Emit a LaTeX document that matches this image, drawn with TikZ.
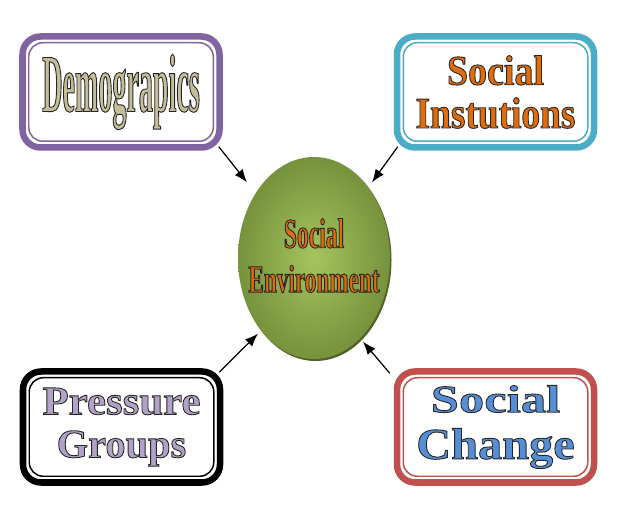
\documentclass[tikz,border=0pt]{standalone}
\usepackage{fontspec}
\setmainfont{Liberation Serif}
\usetikzlibrary{positioning}
\usetikzlibrary{shapes.geometric}
\usetikzlibrary{shadows}
\usetikzlibrary{arrows.meta}
\definecolor{demoline}{HTML}{8064A2}
\definecolor{instline}{HTML}{4BACC6}
\definecolor{changeline}{HTML}{C0504D}
\definecolor{demotext}{HTML}{C4BD97}
\definecolor{orangetext}{HTML}{E36C0A}
\definecolor{presstext}{HTML}{B2A2C7}
\definecolor{changetext}{HTML}{558ED5}
\definecolor{envlight}{HTML}{A4C55E}
\definecolor{envdark}{HTML}{76923C}
\definecolor{envshadow}{HTML}{4F6228}
% colour, stretch, size, text
\newcommand{\wordart}[4]{{\fontsize{#3}{#3}\bfseries\addfontfeatures{FakeStretch=#2}\selectfont\color{#1}\special{pdf:code 0.15 0.15 0.15 RG 2 Tr 0.5 w}#4\special{pdf:code 0 Tr}}}
\tikzset{
	framebox/.style={rectangle,rounded corners=0.36cm,line width=3.7pt,draw=#1,fill=white,
		minimum width=3.94cm,minimum height=2.22cm,inner sep=0pt,align=center},
	innerframe/.style={line width=0.85pt,rounded corners=0.28cm},
	linkarrow/.style={-{Latex[length=0.26cm,width=0.2cm]},line width=0.7pt,black}
}
\begin{document}
\begin{tikzpicture}
	\useasboundingbox (0,0) rectangle (12.54,10.4);

	\node[framebox=demoline] (demo) at (2.42,8.56) {\wordart{demotext}{0.34}{47pt}{Demograpics}};
	\node[framebox=instline] (inst) at (9.91,8.56) {\wordart{orangetext}{0.9}{24pt}{Social}\\[6pt]\wordart{orangetext}{0.85}{25pt}{Instutions}};
	\node[framebox=black] (press) at (2.43,1.86) {\wordart{presstext}{1.06}{23pt}{Pressure}\\[8pt]\wordart{presstext}{1.0}{23pt}{Groups}};
	\node[framebox=changeline] (change) at (9.91,1.86) {\wordart{changetext}{1.31}{22pt}{Social}\\[8pt]\wordart{changetext}{1.1}{25pt}{Change}};

	\foreach \boxname/\boxcolor in {demo/demoline,inst/instline,press/black,change/changeline}
		\draw[innerframe,\boxcolor] ([shift={(0.19,0.19)}]\boxname.south west) rectangle ([shift={(-0.19,-0.19)}]\boxname.north east);

	\node[ellipse,inner sep=0pt,minimum width=3.04cm,minimum height=4.04cm,inner color=envlight,outer color=envdark,
		general shadow={shadow xshift=0.03cm,shadow yshift=-0.04cm,fill=envshadow},text width=2cm,align=center]
		(env) at (6.28,5.24) {\makebox[0pt]{\raisebox{3pt}{\wordart{orangetext}{0.56}{24pt}{Social}}}\\[6pt]\makebox[0pt]{\raisebox{3pt}{\wordart{orangetext}{0.6}{22pt}{Environment}}}};

	\draw[linkarrow] ([shift={(-0.08,0.08)}]demo.south east) -- ([shift={(-0.26,0.08)}]env.north west);
	\draw[linkarrow] ([shift={(0.08,0.08)}]inst.south west) -- ([shift={(0.08,0.08)}]env.north east);
	\draw[linkarrow] ([shift={(-0.08,-0.08)}]press.north east) -- ([shift={(-0.04,-0.08)}]env.south west);
	\draw[linkarrow] ([shift={(-0.08,-0.1)}]change.north west) -- ([shift={(-0.1,-0.24)}]env.south east);
\end{tikzpicture}
\end{document}
